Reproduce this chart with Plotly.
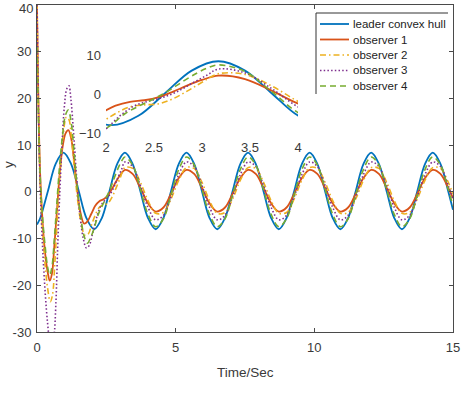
import plotly.graph_objects as go

# ---------------- data ----------------
series_names = ["leader convex hull", "observer 1", "observer 2", "observer 3", "observer 4"]

# common knots for the steady-state part (t >= 3.17 s)
t_steady = [3.170, 3.448, 3.725, 4.003, 4.280, 4.558, 4.835, 5.113, 5.390, 5.668,
            5.945, 6.223, 6.500, 6.778, 7.055, 7.333, 7.610, 7.888, 8.165, 8.443,
            8.720, 8.998, 9.275, 9.553, 9.830, 10.108, 10.385, 10.663, 10.940, 11.218,
            11.495, 11.773, 12.050, 12.328, 12.605, 12.883, 13.160, 13.438, 13.715, 13.993,
            14.270, 14.548, 14.825, 15.000]

# leader convex hull
t_leader_early = [0.0, 0.1175, 0.395, 0.6725, 0.95, 1.2275, 1.505, 1.7825, 2.06, 2.3375, 2.615, 2.8925]
y_leader_early = [-7.0, -5.6, 0.2, 6.0, 8.4, 6.0, 0.2, -5.6, -8.0, -5.6, 0.2, 6.0]
y_leader_steady = [8.4, 6.0, 0.2, -5.6, -8.0, -5.6, 0.2, 6.0,
                   8.4, 6.0, 0.2, -5.6, -8.0, -5.6, 0.2, 6.0,
                   8.4, 6.0, 0.2, -5.6, -8.0, -5.6, 0.2, 6.0,
                   8.4, 6.0, 0.2, -5.6, -8.0, -5.6, 0.2, 6.0,
                   8.4, 6.0, 0.2, -5.6, -8.0, -5.6, 0.2, 6.0,
                   8.4, 6.0, 0.2, -3.85]

# observer 1
t_obs1_early = [0.00, 0.03, 0.06, 0.10, 0.15, 0.22, 0.30, 0.38, 0.46, 0.54, 0.62, 0.72, 0.82,
                0.92, 1.03, 1.13, 1.23, 1.33, 1.45, 1.57, 1.70, 1.82, 1.95, 2.10, 2.25, 2.40,
                2.55, 2.70, 2.85, 3.00]
y_obs1_early = [40, 27, 16, 6, -1, -8, -13.5, -17, -19, -17.5, -12, -4, 4,
                9.5, 12.5, 13.2, 11.5, 7, 0.5, -4.5, -6.8, -6.3, -4.8, -3.0, -2.0, -1.6,
                -0.8, 0.6, 2.2, 3.6]
y_obs1_steady = [4.71, 3.84, 0.88, -2.46, -4.21, -3.35, -0.38, 2.96,
                 4.71, 3.84, 0.88, -2.46, -4.21, -3.35, -0.38, 2.96,
                 4.71, 3.84, 0.88, -2.46, -4.21, -3.35, -0.38, 2.96,
                 4.71, 3.84, 0.88, -2.46, -4.21, -3.35, -0.38, 2.96,
                 4.71, 3.84, 0.88, -2.46, -4.21, -3.35, -0.38, 2.96,
                 4.71, 3.84, 0.88, -1.32]

# observer 2
t_obs2_early = [0.00, 0.03, 0.06, 0.10, 0.15, 0.22, 0.30, 0.38, 0.48, 0.56, 0.64, 0.74, 0.84,
                0.95, 1.06, 1.15, 1.25, 1.35, 1.47, 1.60, 1.73, 1.85, 1.97, 2.10, 2.25, 2.40,
                2.55, 2.70, 2.85, 3.00]
y_obs2_early = [40, 27, 16, 5, -3, -10, -16, -20.5, -23.5, -22, -15.5, -5, 5,
                12.5, 16, 15.5, 11, 5, -2, -7, -9.3, -9, -7, -5, -3.3, -2.8,
                -2.5, -1.2, 0.8, 3.0]
y_obs2_steady = [5.19, 5.01, 2.08, -1.90, -4.59, -4.41, -1.48, 2.50,
                 5.19, 5.01, 2.08, -1.90, -4.59, -4.41, -1.48, 2.50,
                 5.19, 5.01, 2.08, -1.90, -4.59, -4.41, -1.48, 2.50,
                 5.19, 5.01, 2.08, -1.90, -4.59, -4.41, -1.48, 2.50,
                 5.19, 5.01, 2.08, -1.90, -4.59, -4.41, -1.48, 2.50,
                 5.19, 5.01, 2.08, -0.46]

# observer 3
t_obs3_early = [0.00, 0.03, 0.06, 0.10, 0.15, 0.22, 0.30, 0.38, 0.46, 0.53, 0.61, 0.68, 0.75,
                0.83, 0.91, 0.99, 1.07, 1.15, 1.22, 1.32, 1.43, 1.55, 1.67, 1.78, 1.88, 2.00,
                2.15, 2.30, 2.45, 2.60, 2.75, 2.90, 3.05]
y_obs3_early = [40, 27, 15, 4, -5, -14, -22, -28, -32, -33, -31, -24, -11,
                1, 11, 18.5, 22, 22.7, 20, 12.5, 3, -5, -10, -12, -11.5, -9,
                -5.5, -3, -1.8, -0.8, 0.7, 2.8, 4.8]
y_obs3_steady = [6.39, 5.42, 1.40, -3.32, -5.99, -5.02, -1.00, 3.72,
                 6.39, 5.42, 1.40, -3.32, -5.99, -5.02, -1.00, 3.72,
                 6.39, 5.42, 1.40, -3.32, -5.99, -5.02, -1.00, 3.72,
                 6.39, 5.42, 1.40, -3.32, -5.99, -5.02, -1.00, 3.72,
                 6.39, 5.42, 1.40, -3.32, -5.99, -5.02, -1.00, 3.72,
                 6.39, 5.42, 1.40, -1.68]

# observer 4
t_obs4_early = [0.00, 0.03, 0.06, 0.10, 0.15, 0.22, 0.30, 0.38, 0.46, 0.54, 0.62, 0.72, 0.82,
                0.92, 1.03, 1.13, 1.23, 1.33, 1.45, 1.57, 1.70, 1.82, 1.92, 2.05, 2.20, 2.35,
                2.50, 2.65, 2.80, 2.95, 3.05]
y_obs4_early = [31, 22, 14, 6, -1, -7, -12, -16, -17.8, -16, -10.5, -2, 6,
                12, 16.5, 17.5, 15, 9, 1, -5, -9.5, -11, -10, -8, -5, -3,
                -1.2, 0.8, 3.2, 5.4, 6.6]
y_obs4_steady = [7.47, 5.75, 0.65, -4.82, -7.47, -5.75, -0.65, 4.82,
                 7.47, 5.75, 0.65, -4.82, -7.47, -5.75, -0.65, 4.82,
                 7.47, 5.75, 0.65, -4.82, -7.47, -5.75, -0.65, 4.82,
                 7.47, 5.75, 0.65, -4.82, -7.47, -5.75, -0.65, 4.82,
                 7.47, 5.75, 0.65, -4.82, -7.47, -5.75, -0.65, 4.82,
                 7.47, 5.75, 0.65, -2.98]

x_ticks = [0, 5, 10, 15]
y_ticks = [-30, -20, -10, 0, 10, 20, 30, 40]
y_tick_labels = ["-30", "-20", "-10", "0", "10", "20", "30", "40"]
inset_x_ticks = [2, 2.5, 3, 3.5, 4]
inset_y_ticks = [-10, 0, 10]

# ---------------- figure ----------------
W, H = 474, 395
L, R, T, B = 37, 21, 5, 63
pw, ph = W - L - R, H - T - B

def px_x(p):
    return (p - L) / pw

def px_y(p):
    return (H - B - p) / ph

colors = ["#0072BD", "#D95319", "#EDB120", "#7E2F8E", "#77AC30"]
dashes = ["solid", "solid", "6px,3px,1.5px,3px", "1.5px,2.2px", "6px,4px"]
widths = [1.8, 1.8, 1.6, 1.6, 1.6]

all_t = [t_leader_early + t_steady, t_obs1_early + t_steady, t_obs2_early + t_steady,
         t_obs3_early + t_steady, t_obs4_early + t_steady]
all_y = [y_leader_early + y_leader_steady, y_obs1_early + y_obs1_steady,
         y_obs2_early + y_obs2_steady, y_obs3_early + y_obs3_steady,
         y_obs4_early + y_obs4_steady]

fig = go.Figure()
for i in range(5):
    fig.add_trace(go.Scatter(x=all_t[i], y=all_y[i], mode="lines", name=series_names[i],
                             showlegend=False,
                             line=dict(color=colors[i], dash=dashes[i], width=widths[i],
                                       shape="spline", smoothing=1.0),
                             xaxis="x", yaxis="y"))
for i in range(5):
    fig.add_trace(go.Scatter(x=all_t[i], y=all_y[i], mode="lines", showlegend=False,
                             line=dict(color=colors[i], dash=dashes[i], width=widths[i],
                                       shape="spline", smoothing=1.0),
                             xaxis="x2", yaxis="y2"))

font_fam = "Liberation Sans, Arial, sans-serif"
axis_col = "#4a4a4a"
txt_col = "#3a3a3a"

# the top label ("40") is placed as an annotation so that it stays inside the page
main_ticktext = y_tick_labels[:-1] + [""]

fig.update_layout(
    width=W, height=H,
    margin=dict(l=L, r=R, t=T, b=B, autoexpand=False),
    paper_bgcolor="white", plot_bgcolor="white",
    font=dict(family=font_fam, size=13, color=txt_col),
    showlegend=False,
    xaxis=dict(domain=[0, 1], range=[0, 15], tickvals=x_ticks, showgrid=False, zeroline=False,
               showline=True, linecolor=axis_col, linewidth=1, mirror="ticks",
               ticks="inside", ticklen=4, tickcolor=axis_col, automargin=False,
               ticklabelstandoff=3, ticklabeloverflow="allow", tickfont=dict(size=13)),
    yaxis=dict(domain=[0, 1], range=[-30, 40], tickvals=y_ticks, ticktext=main_ticktext,
               showgrid=False, zeroline=False,
               showline=True, linecolor=axis_col, linewidth=1, mirror="ticks",
               ticks="inside", ticklen=4, tickcolor=axis_col, automargin=False,
               ticklabelstandoff=2, ticklabeloverflow="allow", tickfont=dict(size=13)),
    xaxis2=dict(domain=[px_x(106), px_x(298)], range=[2, 4], tickvals=inset_x_ticks,
                ticktext=["2", "2.5", "3", "3.5", "4"], automargin=False,
                anchor="y2", showgrid=False, zeroline=False, showline=False, ticks="",
                ticklabelstandoff=5, tickfont=dict(size=13)),
    yaxis2=dict(domain=[px_y(133), px_y(55)], range=[-10, 10], tickvals=inset_y_ticks,
                anchor="x2", showgrid=False, zeroline=False, showline=False, ticks="",
                automargin=False, ticklabelstandoff=4, tickfont=dict(size=13)),
)

fig.add_annotation(text=y_tick_labels[-1], xref="paper", yref="paper",
                   x=px_x(33.5), y=1.0, yshift=T, showarrow=False,
                   xanchor="right", yanchor="top", borderpad=0,
                   font=dict(size=13, color=txt_col))

# axis titles
fig.add_annotation(text="Time/Sec", xref="paper", yref="paper", x=px_x(245), y=px_y(372),
                   showarrow=False, xanchor="center", yanchor="middle",
                   font=dict(size=13.5, color=txt_col))
fig.add_annotation(text="y", xref="paper", yref="paper", x=px_x(8), y=px_y(165),
                   showarrow=False, xanchor="center", yanchor="middle", textangle=-90,
                   font=dict(size=13.5, color=txt_col))

# legend (drawn by hand to match the compact row spacing)
leg_rows = [24, 39.5, 55, 70.5, 86]
for i in range(5):
    fig.add_shape(type="line", xref="paper", yref="paper",
                  x0=px_x(320), x1=px_x(349), y0=px_y(leg_rows[i]), y1=px_y(leg_rows[i]),
                  line=dict(color=colors[i], dash=dashes[i], width=widths[i]))
    fig.add_annotation(text=series_names[i], xref="paper", yref="paper",
                       x=px_x(351), y=px_y(leg_rows[i]), showarrow=False,
                       xanchor="left", yanchor="middle",
                       font=dict(size=11.5, color="#222"))

# legend frame (top and left edges visible in the reference)
fig.add_shape(type="line", xref="paper", yref="paper",
              x0=px_x(316), x1=px_x(448), y0=px_y(13), y1=px_y(13),
              line=dict(color="#333", width=1))
fig.add_shape(type="line", xref="paper", yref="paper",
              x0=px_x(316), x1=px_x(316), y0=px_y(13), y1=px_y(94),
              line=dict(color="#333", width=1))

fig.write_html("out.html", config={"displayModeBar": False},
               post_script="document.body.style.margin='0px';document.body.style.overflow='hidden';")
